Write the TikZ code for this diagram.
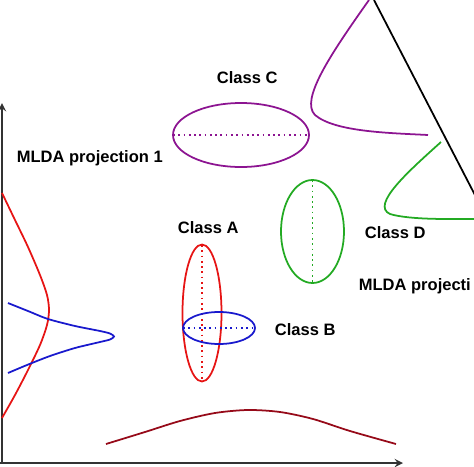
\documentclass[tikz,border=0pt]{standalone}
\usepackage{fontspec}
\setmainfont{Liberation Sans}
\definecolor{clsA}{RGB}{230,20,20}
\definecolor{clsB}{RGB}{25,25,205}
\definecolor{clsC}{RGB}{140,20,145}
\definecolor{clsD}{RGB}{35,170,35}
\definecolor{proj}{RGB}{150,10,25}
\tikzset{lbl/.style={anchor=base west,inner sep=0pt,font=\fontsize{9.4}{11}\selectfont\bfseries}}
\begin{document}
\begin{tikzpicture}[>=stealth,x=0.02cm,y=-0.02cm,line width=1pt]
\useasboundingbox (0,0) rectangle (474,467);
\clip (0,0) rectangle (474,467);
    \draw[->,line width=1.1pt,black!80](2,463)--(2,103);
    \draw[->,line width=1.1pt,black!80](0,463)--(403,463);
% classes
\draw[clsA](202,313)ellipse(19.5 and 68.5);
\draw[clsA,dotted](202,245)--(202,382);
\draw[clsB](219,328)ellipse(36 and 16);
\draw[clsB,dotted](183,328)--(255,328);
\draw[clsC](241,135)ellipse(68 and 32);
\draw[clsC,dotted](173,135)--(309,135);
\draw[clsD](312.5,231.5)ellipse(31.5 and 51.5);
\draw[clsD,dotted](312.5,180)--(312.5,283);
% projections
\draw[clsA]plot[smooth]coordinates{(2,193)(15,220)(28,247)(40,275)(47,295)(49,310)(47,325)(40,345)(28,370)(15,395)(2,418)};
\draw[clsB]plot[smooth,tension=0.45]coordinates{(8,303)(28,311)(48,319)(75,326)(100,331)(110,333.5)(114,336.5)(110,339.5)(100,342)(75,348)(50,356)(27,365)(8,373)};
\draw[proj]plot[smooth]coordinates{(106,444)(145,432)(180,421)(215,413)(248,410)(280,412)(313,419)(350,431)(396,444)};
\draw(374,0)--(476,197);
\draw[clsC](369,0)..controls(330,55)and(300,100)..(315,115)..controls(335,132)and(390,133)..(428,135);
\draw[clsD](441,142)..controls(410,170)and(370,205)..(390,214)..controls(410,220)and(450,219)..(480,219);
\node[lbl](lblC)at(216,83){Class C};
\node[lbl](lblP1)at(16,162){MLDA projection 1};
\node[lbl](lblA)at(177,233){Class A};
\node[lbl](lblB)at(274,335){Class B};
\node[lbl](lblD)at(364,238){Class D};
\node[lbl](lblP2)at(358,290){MLDA projecti};
\end{tikzpicture}
\end{document}
